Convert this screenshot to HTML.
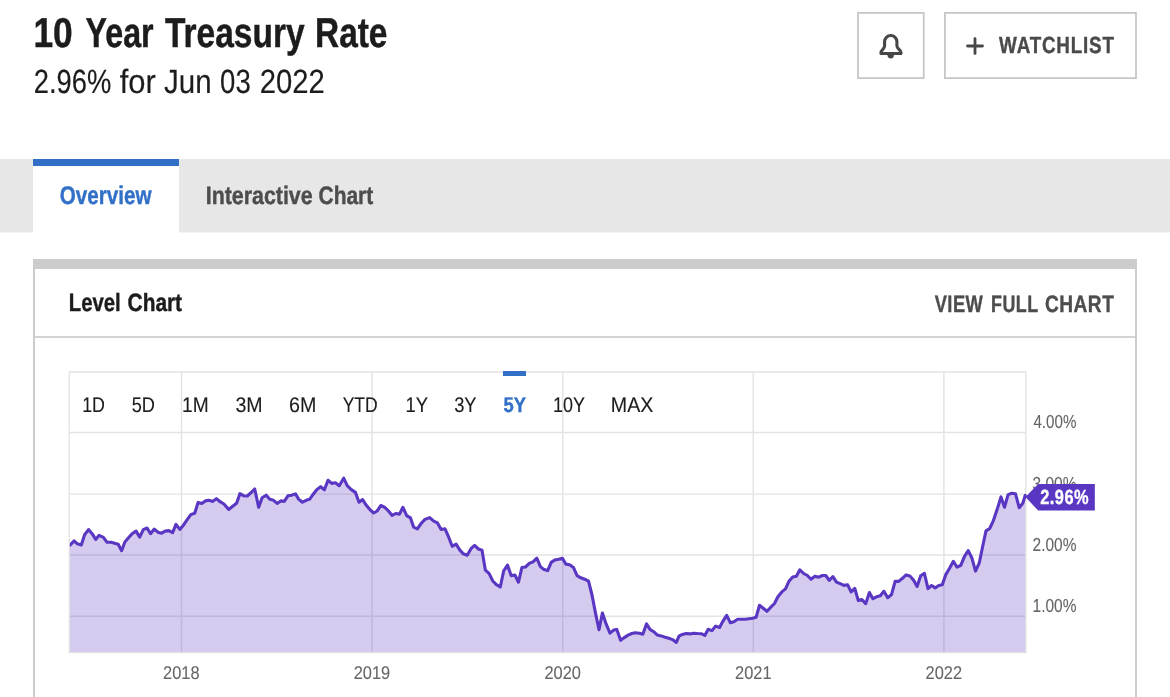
<!DOCTYPE html>
<html lang="en"><head><meta charset="utf-8"><title>10 Year Treasury Rate</title>
<style>
html,body{margin:0;padding:0;background:#fff;}
h1,h2,p{margin:0;padding:0;font:inherit;}
body{width:1170px;height:697px;overflow:hidden;position:relative;font-family:"Liberation Sans",sans-serif;}
.t{position:absolute;left:0;top:0;white-space:nowrap;line-height:1;transform-origin:0 0;display:block;text-rendering:geometricPrecision;}
.box{position:absolute;box-sizing:border-box;}
.btn{border:2px solid #c6c6c6;background:#fff;}
#tabs{left:0;top:159px;width:1170px;height:73px;background:#e7e7e7;box-shadow:0 1px 0 rgba(231,231,231,.45);}
#tab-active{left:33px;top:159px;width:146px;height:74px;background:#fff;border-top:7px solid #3270c8;}
#card{left:33px;top:259px;width:1104px;height:460px;border:2px solid #ccc;border-top:10px solid #ccc;background:#fff;}
#card-sep{left:35px;top:336px;width:1100px;height:2px;background:#d3d3d3;}
#ind{left:503px;top:371.3px;width:23px;height:5.2px;background:#3270c8;z-index:4;}
svg{position:absolute;left:0;top:0;}
</style></head>
<body>
<header>
<h1><span class="t" id="title0" style="font-size:41.72px;font-weight:700;color:#1c1c1c;-webkit-text-stroke:0.46px #1c1c1c;transform:translate(33.41px,11.80px) scaleX(0.8465);">10</span>
<span class="t" id="title1" style="font-size:41.72px;font-weight:700;color:#1c1c1c;-webkit-text-stroke:0.46px #1c1c1c;transform:translate(85.60px,11.80px) scaleX(0.7705);">Year</span>
<span class="t" id="title2" style="font-size:41.72px;font-weight:700;color:#1c1c1c;-webkit-text-stroke:0.46px #1c1c1c;transform:translate(165.00px,11.80px) scaleX(0.8023);">Treasury</span>
<span class="t" id="title3" style="font-size:41.72px;font-weight:700;color:#1c1c1c;-webkit-text-stroke:0.46px #1c1c1c;transform:translate(315.00px,11.80px) scaleX(0.8011);">Rate</span></h1>
<p><span class="t" id="sub0" style="font-size:33.58px;font-weight:400;color:#1c1c1c;-webkit-text-stroke:0.17px #1c1c1c;transform:translate(33.79px,66.40px) scaleX(0.8140);">2.96%</span>
<span class="t" id="sub1" style="font-size:33.58px;font-weight:400;color:#1c1c1c;-webkit-text-stroke:0.17px #1c1c1c;transform:translate(119.70px,66.40px) scaleX(0.9205);">for</span>
<span class="t" id="sub2" style="font-size:33.58px;font-weight:400;color:#1c1c1c;-webkit-text-stroke:0.17px #1c1c1c;transform:translate(164.12px,66.40px) scaleX(0.8784);">Jun</span>
<span class="t" id="sub3" style="font-size:33.58px;font-weight:400;color:#1c1c1c;-webkit-text-stroke:0.17px #1c1c1c;transform:translate(220.08px,66.40px) scaleX(0.8200);">03</span>
<span class="t" id="sub4" style="font-size:33.58px;font-weight:400;color:#1c1c1c;-webkit-text-stroke:0.17px #1c1c1c;transform:translate(259.83px,66.40px) scaleX(0.8708);">2022</span></p>
<span class="t" id="watch" style="font-size:23.26px;font-weight:700;color:#4a4a4a;-webkit-text-stroke:0.4px #4a4a4a;letter-spacing:1.0px;transform:translate(999.10px,34.30px) scaleX(0.8092);">WATCHLIST</span>
</header>
<nav>
<div class="box" id="tabs"></div>
<div class="box" id="tab-active"></div>
<span class="t" id="ov" style="font-size:25.58px;font-weight:700;color:#3270c8;-webkit-text-stroke:0.43px #3270c8;transform:translate(59.79px,183.70px) scaleX(0.8071);">Overview</span>
<span class="t" id="ic0" style="font-size:25.29px;font-weight:700;color:#4d4d4d;-webkit-text-stroke:0.43px #4d4d4d;transform:translate(205.76px,183.70px) scaleX(0.8448);">Interactive</span>
<span class="t" id="ic1" style="font-size:25.29px;font-weight:700;color:#4d4d4d;-webkit-text-stroke:0.43px #4d4d4d;transform:translate(318.57px,183.70px) scaleX(0.8277);">Chart</span>
</nav>
<main>
<div class="box" id="card"></div>
<div class="box" id="card-sep"></div>
<h2><span class="t" id="lc0" style="font-size:25.0px;font-weight:700;color:#1c1c1c;-webkit-text-stroke:0.43px #1c1c1c;transform:translate(68.79px,290.60px) scaleX(0.8097);">Level</span>
<span class="t" id="lc1" style="font-size:25.0px;font-weight:700;color:#1c1c1c;-webkit-text-stroke:0.43px #1c1c1c;transform:translate(127.57px,290.60px) scaleX(0.8344);">Chart</span></h2>
<span class="t" id="vfc0" style="font-size:23.69px;font-weight:700;color:#4d4d4d;-webkit-text-stroke:0.4px #4d4d4d;letter-spacing:0.6px;transform:translate(934.70px,293.90px) scaleX(0.7714);">VIEW</span>
<span class="t" id="vfc1" style="font-size:23.69px;font-weight:700;color:#4d4d4d;-webkit-text-stroke:0.4px #4d4d4d;letter-spacing:0.6px;transform:translate(991.04px,293.90px) scaleX(0.7557);">FULL</span>
<span class="t" id="vfc2" style="font-size:23.69px;font-weight:700;color:#4d4d4d;-webkit-text-stroke:0.4px #4d4d4d;letter-spacing:0.6px;transform:translate(1044.99px,293.90px) scaleX(0.8071);">CHART</span>
<svg width="1170" height="697" viewBox="0 0 1170 697">
 <!-- buttons -->
 <g fill="none" stroke="#c4c4c4" stroke-width="1.7">
  <rect x="858" y="12.9" width="65.7" height="65.2"/>
  <rect x="944.9" y="12.9" width="191.1" height="65.2"/>
 </g>
 <!-- bell icon -->
 <path d="M881,53.5 L881,52.6 C881,49.6 884.6,49.4 884.6,45.8 L884.6,41.6 A6.15,6.1 0 0 1 896.9,41.6 L896.9,45.8 C896.9,49.4 901,49.6 901,52.6 L901,53.5 Z" fill="none" stroke="#474747" stroke-width="3.1" stroke-linejoin="round" stroke-linecap="round"/>
 <path d="M887.4,54.6 L894,54.6 A3.3,4 0 0 1 887.4,54.6 Z" fill="#474747"/>
 <!-- plus -->
 <g stroke="#474747" stroke-width="2.8" stroke-linecap="round"><line x1="967.5" x2="982.5" y1="46" y2="46"/><line x1="975" x2="975" y1="38.6" y2="53.4"/></g>
 <!-- chart -->
 <g stroke="#e3e3e3" stroke-width="1.45" fill="none">
  <line x1="68.6" x2="1026.5" y1="372" y2="372"/>
  <line x1="1025.8" x2="1025.8" y1="372" y2="653.2"/>
  <line x1="69.3" x2="69.3" y1="372" y2="653.2" stroke-width="1.3"/>
  <line x1="68.6" x2="1026.5" y1="652.6" y2="652.6" stroke-width="1.3"/>
  <line x1="69" x2="1026" y1="432.5" y2="432.5"/><line x1="69" x2="1026" y1="494.1" y2="494.1"/><line x1="69" x2="1026" y1="555" y2="555"/><line x1="69" x2="1026" y1="616.3" y2="616.3"/><line y1="372" y2="652" x1="181.5" x2="181.5"/><line y1="372" y2="652" x1="372.1" x2="372.1"/><line y1="372" y2="652" x1="562.7" x2="562.7"/><line y1="372" y2="652" x1="753.3" x2="753.3"/><line y1="372" y2="652" x1="943.9" x2="943.9"/>
 </g>
 <path d="M70.0,545.1 L74.1,540.9 L77.4,543.8 L81.3,544.9 L84.6,534.7 L88.5,529.6 L92.1,533.7 L95.7,539.4 L99.1,535.3 L103.4,537.3 L107.1,542.3 L111.0,542.3 L114.6,543.2 L118.2,544.2 L121.6,550.7 L124.9,542.0 L128.5,537.8 L132.1,533.7 L136.1,531.1 L139.7,537.1 L143.3,529.6 L147.1,528.0 L150.5,533.7 L154.3,529.1 L157.9,532.2 L161.6,533.2 L165.2,531.1 L168.8,530.6 L172.6,532.7 L176.0,524.4 L179.8,529.4 L183.6,524.9 L187.2,519.7 L190.8,514.6 L194.7,513.3 L198.1,502.4 L201.7,503.4 L205.3,500.9 L208.9,500.3 L212.8,501.4 L216.4,498.6 L220.1,501.7 L223.9,504.0 L228.7,509.4 L232.7,506.3 L236.6,503.2 L239.9,493.7 L243.5,495.7 L247.3,496.0 L251.3,492.4 L254.7,489.0 L258.7,507.3 L262.1,497.8 L266.2,495.2 L269.8,499.3 L273.5,500.3 L277.1,503.4 L280.7,500.9 L284.3,501.4 L287.9,495.8 L291.5,495.2 L295.5,493.9 L298.6,499.1 L302.4,502.2 L306.2,500.3 L309.8,499.1 L313.4,493.9 L316.9,489.6 L320.6,486.7 L324.4,489.8 L328.0,480.3 L331.7,483.4 L335.5,482.8 L339.2,485.7 L343.7,478.2 L347.2,485.7 L351.3,489.6 L355.4,492.4 L359.0,502.2 L362.6,499.6 L366.3,505.3 L369.9,509.6 L373.7,513.0 L377.1,511.0 L380.9,505.5 L384.8,507.3 L388.5,511.0 L392.1,515.4 L395.7,513.5 L399.5,514.1 L402.9,507.3 L406.7,515.6 L410.5,517.9 L413.6,527.1 L417.4,528.9 L421.1,523.5 L425.0,519.4 L429.7,517.6 L433.7,521.2 L437.5,522.9 L441.1,529.5 L444.9,528.7 L448.5,536.7 L452.2,546.3 L456.1,544.2 L459.7,549.9 L463.2,553.8 L467.2,555.3 L471.0,548.7 L474.6,545.4 L478.4,549.0 L482.0,550.2 L485.4,570.2 L489.0,573.4 L492.8,581.0 L496.4,584.6 L500.3,587.0 L503.7,570.8 L507.5,565.1 L511.1,575.6 L514.9,575.0 L518.5,582.2 L521.9,567.5 L525.5,567.0 L529.3,563.4 L533.0,561.8 L536.8,558.2 L540.4,566.6 L544.0,569.6 L547.7,570.6 L551.2,562.4 L554.8,560.0 L558.7,559.2 L562.4,558.3 L565.8,564.1 L569.6,564.7 L573.4,567.4 L577.1,575.6 L580.8,577.8 L584.7,579.2 L588.5,581.2 L591.9,594.5 L595.6,613.6 L599.0,629.8 L602.4,613.0 L606.1,623.9 L610.0,633.1 L613.6,630.1 L616.8,629.4 L620.6,640.3 L624.3,637.6 L628.1,635.1 L631.8,633.5 L635.3,632.8 L639.4,633.2 L642.8,634.2 L646.5,623.9 L650.0,629.4 L653.7,631.7 L657.4,635.1 L661.2,635.9 L665.1,637.2 L668.8,638.3 L672.5,639.6 L676.3,642.4 L679.0,636.2 L682.4,634.4 L686.1,633.5 L690.0,633.9 L693.8,633.2 L697.5,633.5 L701.2,633.7 L704.8,635.4 L708.2,629.3 L712.0,630.6 L715.5,626.1 L719.6,627.5 L723.0,621.1 L726.7,615.4 L730.4,622.7 L733.9,621.7 L737.6,619.3 L741.4,619.3 L745.1,619.3 L749.0,618.7 L752.6,618.2 L756.1,617.2 L759.5,605.3 L763.2,608.3 L767.0,611.3 L770.8,607.2 L774.5,603.5 L777.9,596.7 L781.8,591.9 L785.5,588.9 L788.9,581.3 L792.7,576.9 L796.4,576.2 L799.8,569.8 L803.7,573.5 L807.4,575.5 L811.0,579.3 L814.9,576.2 L818.7,577.2 L822.4,575.5 L825.8,575.5 L829.2,580.3 L832.9,576.6 L836.5,582.1 L840.2,583.7 L843.9,585.4 L847.7,584.8 L851.1,591.9 L854.8,588.5 L858.3,600.6 L861.9,599.5 L865.7,603.7 L869.4,592.5 L872.9,598.7 L876.6,596.8 L880.3,595.8 L883.9,591.3 L887.7,597.7 L891.5,594.6 L895.1,581.4 L898.7,581.4 L902.5,578.3 L906.1,574.9 L909.9,576.0 L913.5,580.1 L917.1,586.5 L920.7,575.8 L924.4,573.4 L928.0,588.6 L931.6,585.5 L935.2,587.9 L938.8,585.5 L942.3,584.8 L945.8,574.6 L949.7,568.0 L953.4,561.3 L957.1,567.2 L960.8,565.3 L964.4,556.6 L968.2,550.6 L971.8,557.7 L975.5,571.1 L979.2,563.2 L982.6,546.7 L986.0,530.9 L989.7,528.5 L993.4,520.6 L997.1,509.6 L1001.0,496.9 L1004.5,507.2 L1008.1,494.6 L1011.8,493.3 L1015.5,493.8 L1019.2,507.7 L1022.8,503.3 L1025.2,495.4 L1025.2,652 L70.0,652 Z" fill="#5a37c3" fill-opacity="0.26" stroke="none"/>
 <clipPath id="plotclip"><rect x="69.8" y="372" width="958" height="281"/></clipPath>
 <path d="M70.0,545.1 L74.1,540.9 L77.4,543.8 L81.3,544.9 L84.6,534.7 L88.5,529.6 L92.1,533.7 L95.7,539.4 L99.1,535.3 L103.4,537.3 L107.1,542.3 L111.0,542.3 L114.6,543.2 L118.2,544.2 L121.6,550.7 L124.9,542.0 L128.5,537.8 L132.1,533.7 L136.1,531.1 L139.7,537.1 L143.3,529.6 L147.1,528.0 L150.5,533.7 L154.3,529.1 L157.9,532.2 L161.6,533.2 L165.2,531.1 L168.8,530.6 L172.6,532.7 L176.0,524.4 L179.8,529.4 L183.6,524.9 L187.2,519.7 L190.8,514.6 L194.7,513.3 L198.1,502.4 L201.7,503.4 L205.3,500.9 L208.9,500.3 L212.8,501.4 L216.4,498.6 L220.1,501.7 L223.9,504.0 L228.7,509.4 L232.7,506.3 L236.6,503.2 L239.9,493.7 L243.5,495.7 L247.3,496.0 L251.3,492.4 L254.7,489.0 L258.7,507.3 L262.1,497.8 L266.2,495.2 L269.8,499.3 L273.5,500.3 L277.1,503.4 L280.7,500.9 L284.3,501.4 L287.9,495.8 L291.5,495.2 L295.5,493.9 L298.6,499.1 L302.4,502.2 L306.2,500.3 L309.8,499.1 L313.4,493.9 L316.9,489.6 L320.6,486.7 L324.4,489.8 L328.0,480.3 L331.7,483.4 L335.5,482.8 L339.2,485.7 L343.7,478.2 L347.2,485.7 L351.3,489.6 L355.4,492.4 L359.0,502.2 L362.6,499.6 L366.3,505.3 L369.9,509.6 L373.7,513.0 L377.1,511.0 L380.9,505.5 L384.8,507.3 L388.5,511.0 L392.1,515.4 L395.7,513.5 L399.5,514.1 L402.9,507.3 L406.7,515.6 L410.5,517.9 L413.6,527.1 L417.4,528.9 L421.1,523.5 L425.0,519.4 L429.7,517.6 L433.7,521.2 L437.5,522.9 L441.1,529.5 L444.9,528.7 L448.5,536.7 L452.2,546.3 L456.1,544.2 L459.7,549.9 L463.2,553.8 L467.2,555.3 L471.0,548.7 L474.6,545.4 L478.4,549.0 L482.0,550.2 L485.4,570.2 L489.0,573.4 L492.8,581.0 L496.4,584.6 L500.3,587.0 L503.7,570.8 L507.5,565.1 L511.1,575.6 L514.9,575.0 L518.5,582.2 L521.9,567.5 L525.5,567.0 L529.3,563.4 L533.0,561.8 L536.8,558.2 L540.4,566.6 L544.0,569.6 L547.7,570.6 L551.2,562.4 L554.8,560.0 L558.7,559.2 L562.4,558.3 L565.8,564.1 L569.6,564.7 L573.4,567.4 L577.1,575.6 L580.8,577.8 L584.7,579.2 L588.5,581.2 L591.9,594.5 L595.6,613.6 L599.0,629.8 L602.4,613.0 L606.1,623.9 L610.0,633.1 L613.6,630.1 L616.8,629.4 L620.6,640.3 L624.3,637.6 L628.1,635.1 L631.8,633.5 L635.3,632.8 L639.4,633.2 L642.8,634.2 L646.5,623.9 L650.0,629.4 L653.7,631.7 L657.4,635.1 L661.2,635.9 L665.1,637.2 L668.8,638.3 L672.5,639.6 L676.3,642.4 L679.0,636.2 L682.4,634.4 L686.1,633.5 L690.0,633.9 L693.8,633.2 L697.5,633.5 L701.2,633.7 L704.8,635.4 L708.2,629.3 L712.0,630.6 L715.5,626.1 L719.6,627.5 L723.0,621.1 L726.7,615.4 L730.4,622.7 L733.9,621.7 L737.6,619.3 L741.4,619.3 L745.1,619.3 L749.0,618.7 L752.6,618.2 L756.1,617.2 L759.5,605.3 L763.2,608.3 L767.0,611.3 L770.8,607.2 L774.5,603.5 L777.9,596.7 L781.8,591.9 L785.5,588.9 L788.9,581.3 L792.7,576.9 L796.4,576.2 L799.8,569.8 L803.7,573.5 L807.4,575.5 L811.0,579.3 L814.9,576.2 L818.7,577.2 L822.4,575.5 L825.8,575.5 L829.2,580.3 L832.9,576.6 L836.5,582.1 L840.2,583.7 L843.9,585.4 L847.7,584.8 L851.1,591.9 L854.8,588.5 L858.3,600.6 L861.9,599.5 L865.7,603.7 L869.4,592.5 L872.9,598.7 L876.6,596.8 L880.3,595.8 L883.9,591.3 L887.7,597.7 L891.5,594.6 L895.1,581.4 L898.7,581.4 L902.5,578.3 L906.1,574.9 L909.9,576.0 L913.5,580.1 L917.1,586.5 L920.7,575.8 L924.4,573.4 L928.0,588.6 L931.6,585.5 L935.2,587.9 L938.8,585.5 L942.3,584.8 L945.8,574.6 L949.7,568.0 L953.4,561.3 L957.1,567.2 L960.8,565.3 L964.4,556.6 L968.2,550.6 L971.8,557.7 L975.5,571.1 L979.2,563.2 L982.6,546.7 L986.0,530.9 L989.7,528.5 L993.4,520.6 L997.1,509.6 L1001.0,496.9 L1004.5,507.2 L1008.1,494.6 L1011.8,493.3 L1015.5,493.8 L1019.2,507.7 L1022.8,503.3 L1025.2,495.4" fill="none" stroke="#5a37c3" stroke-width="3.1" stroke-linejoin="round" stroke-linecap="round" clip-path="url(#plotclip)"/>
</svg>
<span class="t" id="r1d" style="font-size:21.22px;font-weight:400;color:#1c1c1c;-webkit-text-stroke:0.11px #1c1c1c;transform:translate(82.16px,394.80px) scaleX(0.8400);">1D</span>
<span class="t" id="r5d" style="font-size:21.22px;font-weight:400;color:#1c1c1c;-webkit-text-stroke:0.11px #1c1c1c;transform:translate(131.74px,394.80px) scaleX(0.8560);">5D</span>
<span class="t" id="r1m" style="font-size:21.22px;font-weight:400;color:#1c1c1c;-webkit-text-stroke:0.11px #1c1c1c;transform:translate(182.10px,394.80px) scaleX(0.9037);">1M</span>
<span class="t" id="r3m" style="font-size:21.22px;font-weight:400;color:#1c1c1c;-webkit-text-stroke:0.11px #1c1c1c;transform:translate(235.48px,394.80px) scaleX(0.9222);">3M</span>
<span class="t" id="r6m" style="font-size:21.22px;font-weight:400;color:#1c1c1c;-webkit-text-stroke:0.11px #1c1c1c;transform:translate(289.07px,394.80px) scaleX(0.9259);">6M</span>
<span class="t" id="rytd" style="font-size:21.22px;font-weight:400;color:#1c1c1c;-webkit-text-stroke:0.11px #1c1c1c;transform:translate(342.68px,394.80px) scaleX(0.8244);">YTD</span>
<span class="t" id="r1y" style="font-size:21.22px;font-weight:400;color:#1c1c1c;-webkit-text-stroke:0.11px #1c1c1c;transform:translate(405.43px,394.80px) scaleX(0.8708);">1Y</span>
<span class="t" id="r3y" style="font-size:21.22px;font-weight:400;color:#1c1c1c;-webkit-text-stroke:0.11px #1c1c1c;transform:translate(454.14px,394.80px) scaleX(0.8625);">3Y</span>
<span class="t" id="r5y" style="font-size:21.22px;font-weight:700;color:#3270c8;-webkit-text-stroke:0.36px #3270c8;transform:translate(503.50px,394.80px) scaleX(0.8654);">5Y</span>
<span class="t" id="r10y" style="font-size:21.22px;font-weight:400;color:#1c1c1c;-webkit-text-stroke:0.11px #1c1c1c;transform:translate(552.95px,394.80px) scaleX(0.8472);">10Y</span>
<span class="t" id="rmax" style="font-size:21.22px;font-weight:400;color:#1c1c1c;-webkit-text-stroke:0.11px #1c1c1c;transform:translate(610.85px,394.80px) scaleX(0.9256);">MAX</span>
<span class="t" id="y4" style="font-size:18.75px;font-weight:400;color:#666;-webkit-text-stroke:0.09px #666;transform:translate(1033.40px,413.20px) scaleX(0.8094);">4.00%</span>
<span class="t" id="y3" style="font-size:18.75px;font-weight:400;color:#666;-webkit-text-stroke:0.09px #666;transform:translate(1032.58px,474.90px) scaleX(0.8250);">3.00%</span>
<span class="t" id="y2" style="font-size:18.75px;font-weight:400;color:#666;-webkit-text-stroke:0.09px #666;transform:translate(1032.58px,535.80px) scaleX(0.8250);">2.00%</span>
<span class="t" id="y1" style="font-size:18.75px;font-weight:400;color:#666;-webkit-text-stroke:0.09px #666;transform:translate(1032.58px,597.10px) scaleX(0.8250);">1.00%</span>
<svg width="1170" height="697" viewBox="0 0 1170 697" style="z-index:3">
 <path d="M1025.4,497 L1038.2,484.1 L1094.8,484.1 L1094.8,510.6 L1038.2,510.6 Z" fill="#5a37c3"/>
</svg>
<div class="box" id="ind"></div>
<span class="t" id="x18" style="font-size:18.46px;font-weight:400;color:#666;-webkit-text-stroke:0.09px #666;transform:translate(163.01px,664.10px) scaleX(0.8897);">2018</span>
<span class="t" id="x19" style="font-size:18.46px;font-weight:400;color:#666;-webkit-text-stroke:0.09px #666;transform:translate(353.71px,664.10px) scaleX(0.8897);">2019</span>
<span class="t" id="x20" style="font-size:18.46px;font-weight:400;color:#666;-webkit-text-stroke:0.09px #666;transform:translate(544.41px,664.10px) scaleX(0.8897);">2020</span>
<span class="t" id="x21" style="font-size:18.46px;font-weight:400;color:#666;-webkit-text-stroke:0.09px #666;transform:translate(735.01px,664.10px) scaleX(0.8897);">2021</span>
<span class="t" id="x22" style="font-size:18.46px;font-weight:400;color:#666;-webkit-text-stroke:0.09px #666;transform:translate(925.61px,664.10px) scaleX(0.8897);">2022</span>
<span class="t" id="flag" style="font-size:20.49px;font-weight:700;color:#fff;-webkit-text-stroke:0.35px #fff;letter-spacing:0.6px;transform:translate(1040.20px,487.70px) scaleX(0.8000);z-index:5;">2.96%</span>
</main>
</body></html>
